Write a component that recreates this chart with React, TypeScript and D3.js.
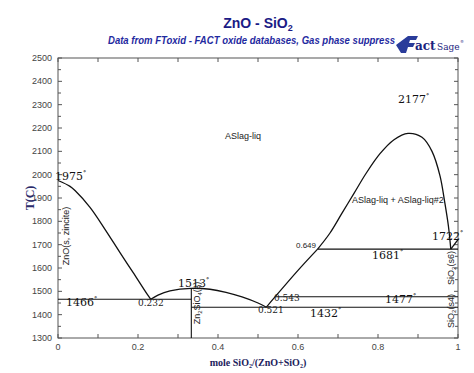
import React from "react";
import * as d3 from "d3";

const W = 474, H = 373;
const M = { left: 58, right: 458, top: 58, bottom: 338 };

const xTicks = [0, 0.2, 0.4, 0.6, 0.8, 1];
const yTicks = [1300, 1400, 1500, 1600, 1700, 1800, 1900, 2000, 2100, 2200, 2300, 2400, 2500];

// liquidus curves [x, T]
const znoLiquidus: [number, number][] = [
  [0, 1975], [0.03, 1950], [0.0425, 1932], [0.08, 1860], [0.1175, 1766], [0.155, 1666], [0.188, 1580], [0.222, 1490], [0.232, 1466],
];
const willemiteLiquidus: [number, number][] = [
  [0.232, 1466], [0.25, 1484], [0.28, 1502], [0.333, 1513], [0.38, 1509], [0.42, 1496], [0.46, 1476], [0.5, 1450], [0.521, 1432],
];
const silicaLiquidus: [number, number][] = [
  [0.521, 1432], [0.543, 1477], [0.6, 1590], [0.649, 1681],
];
const miscibilityDome: [number, number][] = [
  [0.649, 1681], [0.68, 1750], [0.71, 1835], [0.74, 1920], [0.77, 2005], [0.805, 2090], [0.84, 2150], [0.875, 2177],
  [0.91, 2160], [0.935, 2100], [0.955, 1995], [0.967, 1880], [0.976, 1780], [0.982, 1681],
];
const cristobaliteLiquidus: [number, number][] = [[0.982, 1681], [1, 1722]];

// invariant / phase lines: [x1, x2, T]
const isotherms: [number, number, number][] = [
  [0, 0.3333, 1466],
  [0.3333, 1, 1432],
  [0.543, 1, 1477],
  [0.649, 1, 1681],
];
const zn2sio4X = 0.3333;

export default function App() {
  const x = d3.scaleLinear().domain([0, 1]).range([M.left, M.right]);
  const y = d3.scaleLinear().domain([1300, 2500]).range([M.bottom, M.top]);
  const line = d3.line<[number, number]>().x(d => x(d[0])).y(d => y(d[1])).curve(d3.curveCatmullRom.alpha(0.5));

  const xMinor = d3.range(0, 1.0001, 0.1);
  const yMinor = d3.range(1300, 2500.1, 50);

  const deg = (txt: string, px: number, py: number, size = 11) => (
    <text x={px} y={py} fontFamily="DejaVu Serif" fontSize={size} fill="#111">
      {txt}
      <tspan dy={-5} fontSize={size * 0.6}>°</tspan>
    </text>
  );

  return (
    <svg width={W} height={H} style={{ position: "absolute", left: 0, top: 0, background: "#fff" }}>
      {/* title */}
      <text x={258} y={28} textAnchor="middle" fontFamily="Liberation Sans, Arial" fontWeight="bold" fontSize={14} fill="#1b1b86">
        ZnO - SiO<tspan dy={3} fontSize={9}>2</tspan>
      </text>
      <text x={108} y={44} textLength={287} lengthAdjust="spacingAndGlyphs" fontFamily="Liberation Sans, Arial" fontWeight="bold" fontStyle="italic" fontSize={10} fill="#1f2aa0">
        Data from FToxid - FACT oxide databases,  Gas phase suppress
      </text>
      {/* FactSage logo */}
      <g>
        <path d="M396,45 L408,36 L418,36 L416,40 L410,40 L409,43 L415,43 L413,47 L408,47 L406,53 L401,53 Z" fill="#2a3c9a" />
        <text x={415} y={50} fontFamily="DejaVu Serif" fontWeight="bold" fontSize={12} fill="#1a237e">act</text>
        <text x={437} y={50} fontFamily="DejaVu Serif" fontSize={9} fill="#1a237e">Sage</text>
        <text x={460} y={43} fontFamily="DejaVu Sans" fontSize={4} fill="#1a237e">®</text>
      </g>

      {/* frame */}
      <rect x={M.left} y={M.top} width={M.right - M.left} height={M.bottom - M.top} fill="none" stroke="#555" strokeWidth={1} />

      {/* ticks */}
      {xMinor.map((v, i) => (
        <g key={"xt" + i} stroke="#555" strokeWidth={1}>
          <line x1={x(v)} x2={x(v)} y1={M.bottom} y2={M.bottom - 4} />
          <line x1={x(v)} x2={x(v)} y1={M.top} y2={M.top + 4} />
        </g>
      ))}
      {yMinor.map((v, i) => {
        const len = v % 100 === 0 ? 4 : 3;
        return (
          <g key={"yt" + i} stroke="#555" strokeWidth={1}>
            <line x1={M.left} x2={M.left + len} y1={y(v)} y2={y(v)} />
            <line x1={M.right} x2={M.right - len} y1={y(v)} y2={y(v)} />
          </g>
        );
      })}
      {xTicks.map((v, i) => (
        <text key={"xl" + i} x={x(v)} y={350} textAnchor="middle" fontFamily="Liberation Sans, Arial" fontSize={9} fill="#444">
          {d3.format("~g")(v)}
        </text>
      ))}
      {yTicks.map((v, i) => (
        <text key={"yl" + i} x={52} y={y(v) + 3} textAnchor="end" fontFamily="Liberation Sans, Arial" fontSize={9} fill="#444">
          {v}
        </text>
      ))}

      {/* axis titles */}
      <text transform={`translate(34,${(M.top + M.bottom) / 2}) rotate(-90)`} textAnchor="middle" fontFamily="Liberation Serif, Times New Roman" fontWeight="bold" fontSize={12} fill="#2b2b6b">
        T(C)
      </text>
      <text x={258} y={366} textAnchor="middle" fontFamily="Liberation Serif, Times New Roman" fontWeight="bold" fontSize={10} fill="#1c1c5c">
        mole SiO<tspan dy={2} fontSize={6}>2</tspan><tspan dy={-2}>/(ZnO+SiO</tspan><tspan dy={2} fontSize={6}>2</tspan><tspan dy={-2}>)</tspan>
      </text>

      {/* phase lines */}
      <g fill="none" stroke="#111" strokeWidth={1.1}>
        {isotherms.map((d, i) => (
          <line key={"iso" + i} x1={x(d[0])} x2={x(d[1])} y1={y(d[2])} y2={y(d[2])} />
        ))}
        <line x1={x(zn2sio4X)} x2={x(zn2sio4X)} y1={y(1513)} y2={y(1300)} />
        <path d={line(znoLiquidus) || ""} strokeWidth={1.3} />
        <path d={line(willemiteLiquidus) || ""} strokeWidth={1.3} />
        <path d={line(silicaLiquidus) || ""} strokeWidth={1.3} />
        <path d={line(miscibilityDome) || ""} strokeWidth={1.3} />
        <path d={line(cristobaliteLiquidus) || ""} strokeWidth={1.3} />
      </g>

      {/* labels */}
      {deg("1975", 55, 180)}
      {deg("2177", 398, 103)}
      {deg("1681", 372, 259)}
      {deg("1722", 432, 240)}
      {deg("1513", 178, 287)}
      {deg("1466", 66, 306)}
      {deg("1477", 385, 303)}
      {deg("1432", 310, 317)}

      <text x={225} y={139} fontFamily="Liberation Sans, Arial" fontSize={9} fill="#222">ASlag-liq</text>
      <text x={352} y={203} fontFamily="Liberation Sans, Arial" fontSize={9} fill="#222">ASlag-liq + ASlag-liq#2</text>

      <text x={296} y={248} fontFamily="Liberation Sans, Arial" fontSize={8} fill="#222">0.649</text>
      <text x={138} y={306} fontFamily="DejaVu Serif" fontSize={9} fill="#222">0.232</text>
      <text x={274} y={301} fontFamily="DejaVu Serif" fontSize={9} fill="#222">0.543</text>
      <text x={258} y={313} fontFamily="DejaVu Serif" fontSize={9} fill="#222">0.521</text>

      <text transform="translate(69,236) rotate(-90)" textAnchor="middle" fontFamily="Liberation Sans, Arial" fontSize={9} fill="#222">
        ZnO(s, zincite)
      </text>
      <text transform="translate(200,303) rotate(-90)" textAnchor="middle" fontFamily="Liberation Sans, Arial" fontSize={9} fill="#222">
        Zn<tspan dy={2} fontSize={6}>2</tspan><tspan dy={-2}>SiO</tspan><tspan dy={2} fontSize={6}>4</tspan><tspan dy={-2}>(s)</tspan>
      </text>
      <text transform="translate(454,268) rotate(-90)" textAnchor="middle" fontFamily="Liberation Sans, Arial" fontSize={9} fill="#222">
        SiO<tspan dy={2} fontSize={6}>2</tspan><tspan dy={-2}>(s6)</tspan>
      </text>
      <text transform="translate(454,311) rotate(-90)" textAnchor="middle" fontFamily="Liberation Sans, Arial" fontSize={9} fill="#222">
        SiO<tspan dy={2} fontSize={6}>2</tspan><tspan dy={-2}>(s4)</tspan>
      </text>
    </svg>
  );
}
